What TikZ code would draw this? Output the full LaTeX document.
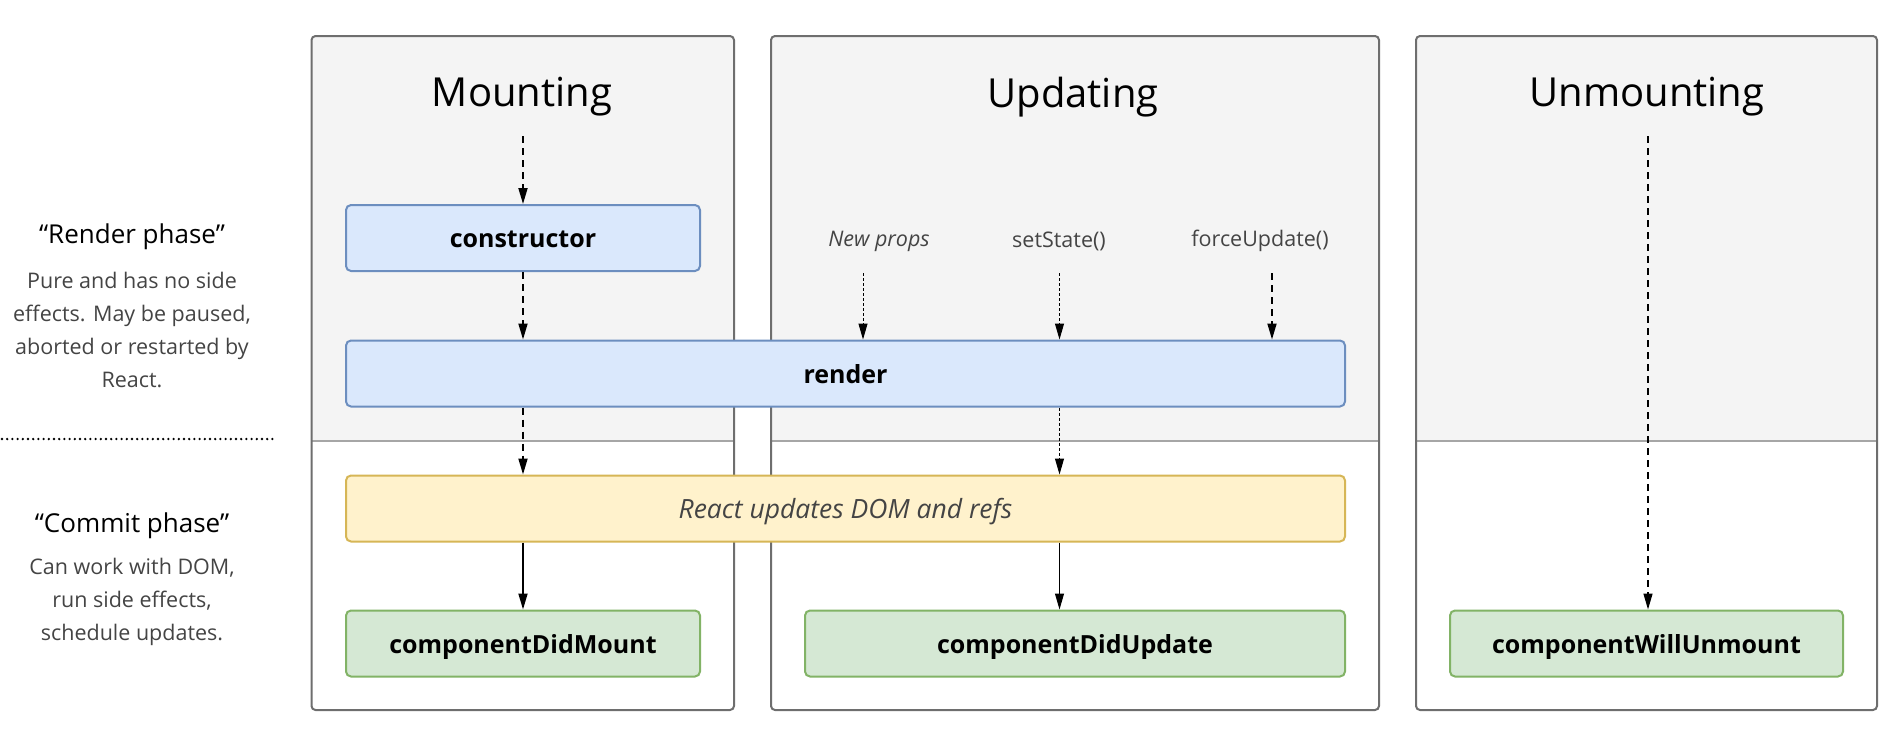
\documentclass[tikz,border=0pt]{standalone}
\usepackage{fontspec}
\setmainfont{Open Sans}
\usetikzlibrary{arrows.meta}
\definecolor{panelgray}{HTML}{F4F4F4}
\definecolor{panelline}{HTML}{6E6E6E}
\definecolor{divline}{HTML}{A6A6A6}
\definecolor{bluefill}{HTML}{DAE8FC}
\definecolor{blueline}{HTML}{6C8EBF}
\definecolor{yellowfill}{HTML}{FFF2CC}
\definecolor{yellowline}{HTML}{D6B656}
\definecolor{greenfill}{HTML}{D5E8D4}
\definecolor{greenline}{HTML}{82B366}
\definecolor{softtext}{HTML}{444444}
% one lifecycle column: grey render half, white commit half
\def\panel#1#2{\draw[phase,fill=white,path picture={\fill[panelgray] (#1,36) rectangle (#2,441);
	\draw[divline,line width=2pt] (#1,441) -- (#2,441);}] (#1,36) rectangle (#2,710);}

\begin{document}
\begin{tikzpicture}[x=1pt,y=-1pt,
	phase/.style={draw=panelline,line width=2pt,rounded corners=4pt},
	title/.style={font=\fontsize{40}{46}\selectfont},
	box/.style={rounded corners=5pt,line width=2pt,minimum height=66pt,inner sep=0pt,text height=19pt,text depth=0pt,font=\fontsize{25}{30}\selectfont\bfseries},
	bluebox/.style={box,draw=blueline,fill=bluefill},
	greenbox/.style={box,draw=greenline,fill=greenfill},
	trigger/.style={font=\fontsize{21.5}{26}\selectfont,text=softtext},
	phasehead/.style={font=\fontsize{26}{30}\selectfont},
	phasetext/.style={align=center,text=softtext,font=\fontsize{21.5}{33}\selectfont},
	tip/.style={-{Triangle[length=16pt,width=9pt]}},
	dasharrow/.style={tip,line width=1.8pt,dash pattern=on 7pt off 5pt},
	finearrow/.style={tip,line width=1pt,dash pattern=on 3pt off 2pt},
	solidarrow/.style={tip,line width=1.8pt}]
	\useasboundingbox (0,0) rectangle (1904,745);
	
	\panel{311.5}{734}
	\panel{771}{1379}
	\panel{1416}{1877}
	
	\node[title] (mounttitle) at (522,97) {Mounting};
	\node[title] (updatetitle) at (1073,97) {Updating};
	\node[title] (unmounttitle) at (1647,97) {Unmounting};
	
	\node[bluebox,minimum width=354pt] (constructor) at (523,238) {constructor};
	\node[bluebox,minimum width=999pt] (render) at (845.5,373.5) {render};
	\node[box,draw=yellowline,fill=yellowfill,minimum width=999pt,font=\fontsize{26.5}{30}\selectfont\itshape,text=softtext] (domupd) at (845.5,508.5) {React updates DOM and refs};
	\node[greenbox,minimum width=354pt] (didmount) at (523,643.5) {componentDidMount};
	\node[greenbox,minimum width=540pt] (didupdate) at (1075,643.5) {componentDidUpdate};
	\node[greenbox,minimum width=393pt] (willunmount) at (1646.5,643.5) {componentWillUnmount};
	
	\node[trigger,font=\fontsize{21.5}{26}\selectfont\itshape] (newprops) at (879,241) {New props};
	\node[trigger] (setstate) at (1059,241) {setState()};
	\node[trigger] (forceupd) at (1260,241) {forceUpdate()};
	
	\coordinate (mountstart) at (523,136);
	\coordinate (unmountstart) at (1648,136);
	\coordinate (propsstart) at (863,273);
	\coordinate (statestart) at (1059.5,273);
	\coordinate (forcestart) at (1272,273);
	
	\draw[dasharrow] (mountstart) -- (constructor);
	\draw[dasharrow] (constructor) -- (constructor |- render.north);
	\draw[finearrow] (propsstart) -- (propsstart |- render.north);
	\draw[finearrow] (statestart) -- (statestart |- render.north);
	\draw[dasharrow] (forcestart) -- (forcestart |- render.north);
	\draw[dasharrow] (render.south -| constructor) -- (domupd.north -| constructor);
	\draw[finearrow] (render.south -| statestart) -- (domupd.north -| statestart);
	\draw[solidarrow] (domupd.south -| didmount) -- (didmount);
	\draw[tip,line width=1pt] (domupd.south -| statestart) -- (didupdate.north -| statestart);
	\draw[dasharrow,line width=1.4pt] (unmountstart) -- (willunmount.north -| unmountstart);
	
	% phase notes on the left
	\draw[line width=2.6pt,line cap=round,dash pattern=on 0pt off 5.2pt] (2,439) -- (276,439);
	\node[phasehead] (renderphase) at (132,237) {“Render phase”};
	\node[phasetext] (renderdesc) at (132,330) {Pure and has no side\\effects. May be paused,\\aborted or restarted by\\React.};
	\node[phasehead] (commitphase) at (132,526) {“Commit phase”};
	\node[phasetext] (commitdesc) at (132,602) {Can work with DOM,\\run side effects,\\schedule updates.};
\end{tikzpicture}
\end{document}
